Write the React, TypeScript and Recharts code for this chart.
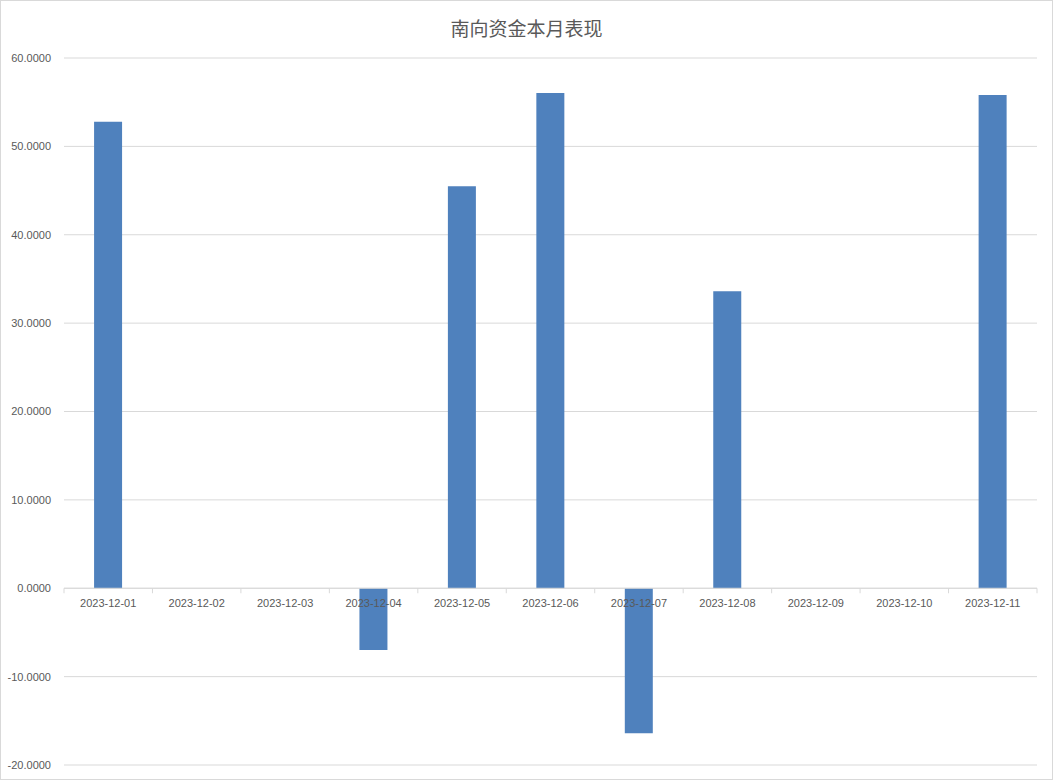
import React from 'react';
import { BarChart, Bar, XAxis, YAxis, CartesianGrid, ReferenceLine } from 'recharts';

const categories = ['2023-12-01', '2023-12-02', '2023-12-03', '2023-12-04', '2023-12-05', '2023-12-06', '2023-12-07', '2023-12-08', '2023-12-09', '2023-12-10', '2023-12-11'];
const values = [52.8, 0, 0, -7.0, 45.5, 56.05, -16.4, 33.6, 0, 0, 55.8];
const yTicks = [-20, -10, 0, 10, 20, 30, 40, 50, 60];
const title = '南向资金本月表现';

const data = categories.map((c, i) => ({ date: c, value: values[i] }));

const W = 1053;
const H = 780;
const M = { top: 58, right: 16, bottom: 14, left: 0 };
const Y_AXIS_W = 64;
const X_AXIS_H = 1;
const Y_MIN = -20;
const Y_MAX = 60;
const plotH = H - M.top - M.bottom - X_AXIS_H;
const plotW = W - M.left - M.right - Y_AXIS_W;
const zeroY = M.top + (plotH * Y_MAX) / (Y_MAX - Y_MIN);
const band = plotW / categories.length;

const TEXT = '#595959';
const GRID = '#d9d9d9';

const XTick = (props: any) => {
  const { x, index, payload } = props;
  const left = x - band / 2;
  const isLast = index === categories.length - 1;
  return (
    <g>
      <line x1={left} x2={left} y1={zeroY} y2={zeroY + 5} stroke={GRID} strokeWidth={1} />
      {isLast && <line x1={left + band} x2={left + band} y1={zeroY} y2={zeroY + 5} stroke={GRID} strokeWidth={1} />}
      <text x={x} y={zeroY + 19} textAnchor="middle" fill={TEXT} fontSize={11} fontFamily="Liberation Sans, Arial, sans-serif">
        {payload.value}
      </text>
    </g>
  );
};

export default function App() {
  return (
    <div
      style={{
        position: 'absolute',
        left: 0,
        top: 0,
        width: W,
        height: H,
        boxSizing: 'border-box',
        border: `1px solid ${GRID}`,
        background: '#fff',
      }}
    >
      <div
        style={{
          position: 'absolute',
          left: 0,
          top: 13,
          width: '100%',
          textAlign: 'center',
          fontFamily: '"Noto Sans CJK SC", sans-serif',
          fontSize: 19,
          color: TEXT,
          lineHeight: '27px',
        }}
      >
        {title}
      </div>
      <div style={{ position: 'absolute', left: -1, top: -1 }}>
        <BarChart width={W} height={H} data={data} margin={M} barCategoryGap="34%">
          <CartesianGrid vertical={false} stroke={GRID} />
          <YAxis
            width={Y_AXIS_W}
            domain={[Y_MIN, Y_MAX]}
            ticks={yTicks}
            axisLine={false}
            tickLine={false}
            tickMargin={4}
            tick={{ fill: TEXT, fontSize: 11, fontFamily: 'Liberation Sans, Arial, sans-serif', dx: -3 }}
            tickFormatter={(v: number) => v.toFixed(4)}
          />
          <Bar dataKey="value" fill="#4f81bd" isAnimationActive={false} />
          <ReferenceLine y={0} stroke={GRID} strokeWidth={1} />
          <XAxis dataKey="date" height={X_AXIS_H} axisLine={false} tickLine={false} tick={<XTick />} interval={0} />
        </BarChart>
      </div>
    </div>
  );
}
